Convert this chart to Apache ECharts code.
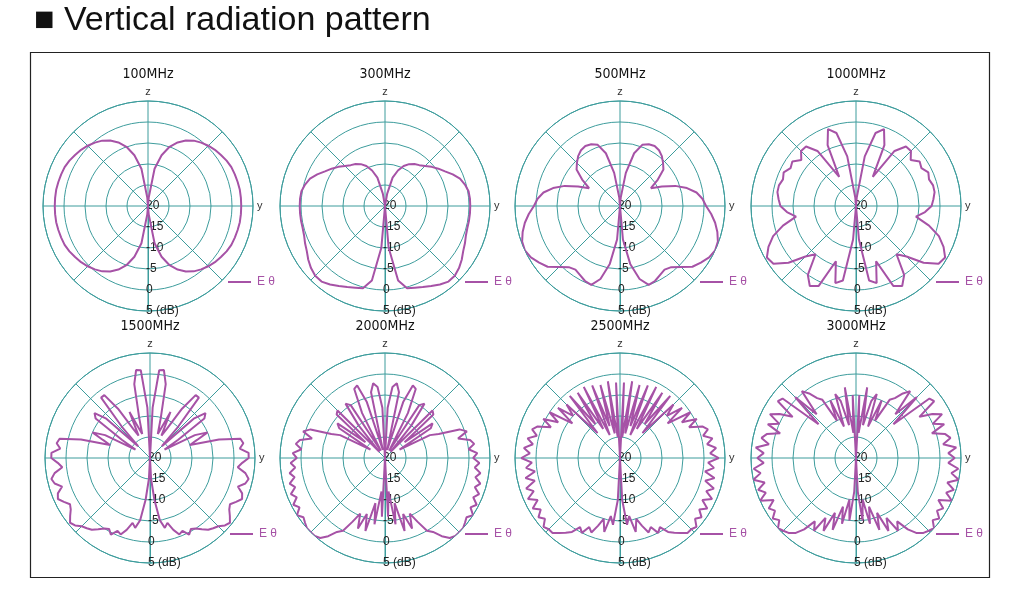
<!DOCTYPE html>
<html><head><meta charset="utf-8">
<script src="https://cdn.jsdelivr.net/npm/echarts@6/dist/echarts.min.js"></script>
<style>html,body{margin:0;padding:0;background:#fff}#c{width:1015px;height:604px}</style>
</head><body><div id="c"></div>
<script>
const titles = ['100MHz','300MHz','500MHz','1000MHz','1500MHz','2000MHz','2500MHz','3000MHz'];
const steps = [5,5,5,5,3,3,3,3];
const radiusTicks = [-20,-15,-10,-5,0,5];
const p100 = [-25,-18,-11,-7.5,-5,-3.3,-2,-1,-0.3,0.3,0.8,1.2,1.6,1.9,2,2.1,2.2,2.2,2.2,2.2,2.2,2.1,2,1.9,1.6,1.2,0.8,0.3,-0.3,-1,-2,-3.3,-5,-7.5,-11,-18,-25];
const p300 = [-25,-20,-17,-13,-11,-9.5,-8.5,-7.8,-7.3,-6.5,-5.5,-4.5,-3.5,-2.2,-1,-0.3,0.2,0.3,0.3,0.3,0.3,0.3,0.5,1,1.5,2.3,3,3.5,3.5,2.8,2,1.3,0.7,0.3,-2,-10,-25];
const p500 = [-25,-18,-12,-7,-4.5,-3.8,-3.5,-3.8,-4.5,-5.5,-6.5,-9,-11.5,-9,-6,-3.5,-1.5,-0.3,0.5,1.8,3,4,4.8,5,4.5,3.5,2.5,0.5,-1,-1.5,-1,-0.3,0,-2,-6,-12,-25];
const p1000 = [-25,-18,-8,-2,-0.5,-4,-12,-4,-1.5,-1.5,-3,-1.5,-2,-1,-1.5,-1,-1,-1.5,-2,-3.5,-5.5,-2,1,3,4.5,4,1,-3,-5,0,2,1,-6,-1,-2,-12,-25];
const p1500 = [-25,-8,1,1.2,-2,-10,-14,-12,-8,-14,-12,-6,-1.5,-1.5,-10,-16,-6,-3,-4,-12,-16,-8,-5,-8,-10,-3,2,2.5,1.5,3.5,3.5,2,1,3,4,3.5,2,3.5,4,3,2,2.5,3.5,4.5,4,3,2.5,2,1,0,-0.5,0.5,-1,-0.5,-2,-4,-3,-5,-10,-15,-25];
const p2000 = [-25,-8,-3,-2,-4,-18,-6,-1.5,-2,-8,-18,-5,-4,-10,-18,-4,-4.5,-14,-6,-7,-16,-8,-6,-1,0.5,-2,0.7,1.5,0,2,1,2.5,1.5,3,2,3.5,2.5,4,3,4.5,3.5,5,4,4.5,5,5,5,4.5,3,1,0,-3,-5.5,-2,-6,-2,-9,-4,-12,-6,-25];
const p2500 = [-25,-2,-15,-1.5,-14,-2,-12,-1.5,-14,-1,-12,-1.5,-10,-1,-12,-2,-5,-1,-6,0,-3,0.5,-2,1,2,0.5,2.5,1,3,1.5,3.5,1,2.5,0.5,3,1,3.5,2,4,2,4,2.5,4,3,4.5,4,4,3,2,1,-1,0,-2,-1,-3,-5,-2,-6,-4,-10,-25];
const p3000 = [-25,-5,-14,-3,-12,-6,-4,-12,-5,-10,-4,-3,-1,0.5,-6,0.5,-8,2.5,3,-2,1,3,0,2.5,-1,2,3,1,4,2,3.5,2,4.5,3,5,2.5,4.5,3,5,2,4,3,4.5,3.5,5,4.5,4,3,1,-2,0,-4,-1,-6,-2,-8,-4,-10,-5,-12,-25];
const patterns = [p100,p300,p500,p1000,p1500,p2000,p2500,p3000];

const centers = [[148,206],[385,206],[620,206],[856,206],[150,458],[385,458],[620,458],[856,458]];
const R = 105;
const grid = '#3d9c9c', purple = '#a652a6';
const polar = [], angleAxis = [], radiusAxis = [], series = [], graphic = [];
graphic.push({type:'text',left:34,top:4,style:{text:'■ Vertical radiation pattern',font:'34px "Liberation Sans", Arial',fill:'#111'}});
graphic.push({type:'rect',shape:{x:30.5,y:52.5,width:959,height:525},style:{fill:'none',stroke:'#222',lineWidth:1.2}});
patterns.forEach((p,i)=>{
  const [cx,cy] = centers[i];
  polar.push({center:[cx,cy],radius:R});
  angleAxis.push({polarIndex:i,type:'value',min:0,max:360,interval:45,startAngle:270,clockwise:true,
    axisLine:{lineStyle:{color:grid,width:1}},axisTick:{show:false},
    axisLabel:{color:'#333',fontSize:11,margin:4,formatter:v=>v===180?'z':(v===270?'y':'')},
    splitLine:{lineStyle:{color:grid,width:1}}});
  radiusAxis.push({polarIndex:i,type:'value',min:-20,max:5,interval:5,
    axisLine:{lineStyle:{color:grid}},axisTick:{show:false},
    axisLabel:{color:'#222',fontSize:12,margin:-2,align:'left',formatter:v=>v===5?'5 (dB)':(v===-20?'20':String(v))},
    splitLine:{lineStyle:{color:grid,width:1}}});
  const st = steps[i], data = [];
  for(let k=p.length-1;k>=0;k--) data.push([Math.max(p[k],-20),180-k*st]);
  for(let k=0;k<p.length;k++) data.push([Math.max(p[k],-20),180+k*st]);
  series.push({type:'line',coordinateSystem:'polar',polarIndex:i,data,symbol:'none',
    lineStyle:{color:purple,width:2},z:5});
  graphic.push({type:'text',x:cx,y:cy-139,style:{text:titles[i],font:'14px "DejaVu Sans Condensed", "Liberation Sans", Arial',fill:'#111',textAlign:'center'}});
  graphic.push({type:'line',shape:{x1:cx+80,y1:cy+76,x2:cx+103,y2:cy+76},style:{stroke:purple,lineWidth:2}});
  graphic.push({type:'text',x:cx+109,y:cy+70,style:{text:'E θ',font:'12px "Liberation Sans", Arial',fill:purple}});
});
const chart = echarts.init(document.getElementById('c'));
chart.setOption({animation:false,polar,angleAxis,radiusAxis,series,graphic});
</script></body></html>
